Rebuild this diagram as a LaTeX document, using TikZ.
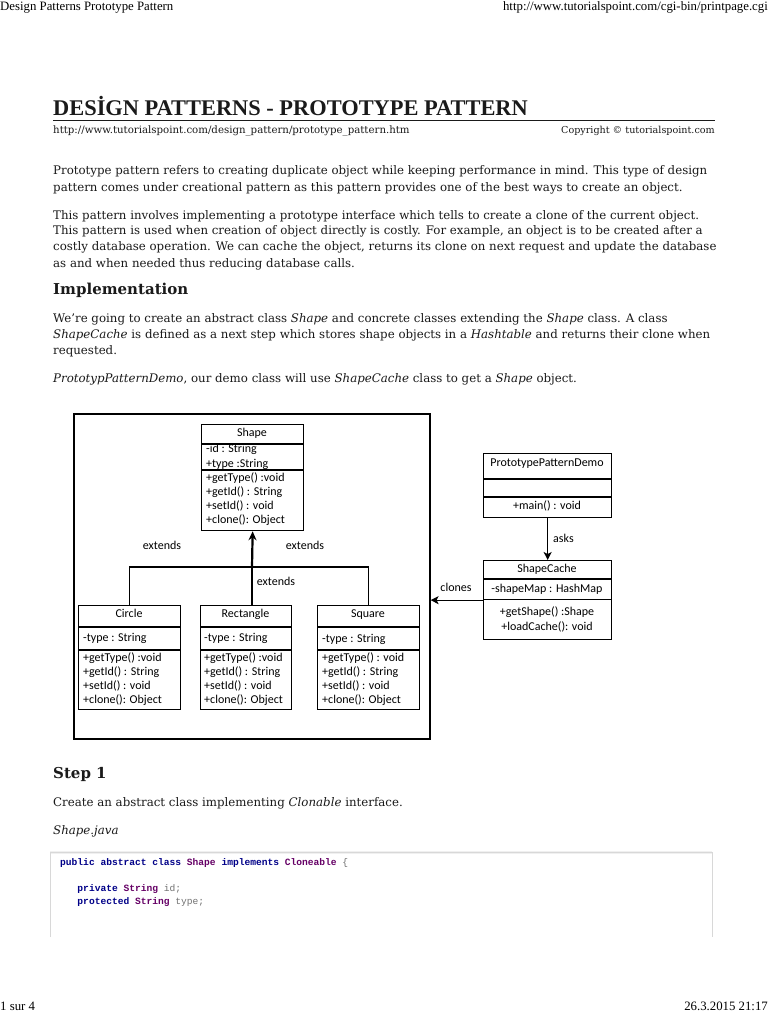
\documentclass[tikz,border=0pt]{standalone}
\usepackage{fontspec}
\setmainfont{DejaVu Serif}
\newfontfamily\timesf{Liberation Serif}
\newfontfamily\umlf{Carlito}
\newfontfamily\monof{Liberation Mono}
\usetikzlibrary{arrows.meta}
\definecolor{txt}{HTML}{1A1A1A}
\definecolor{kw}{HTML}{000088}
\definecolor{typ}{HTML}{660066}
\definecolor{pln}{HTML}{707070}
\definecolor{codeborder}{HTML}{D8D8D8}
\tikzset{
  hdr/.style={inner sep=0pt, font=\timesf\fontsize{12.8}{14}\selectfont, text height=8.5pt, text depth=2.5pt},
  body/.style={anchor=west, inner sep=0pt, text=txt, font=\fontsize{11.8}{14}\selectfont, text height=8.5pt, text depth=2.5pt},
  umlt/.style={inner sep=0pt, font=\umlf\fontsize{12}{14}\selectfont, text height=8pt, text depth=2.4pt},
  umll/.style={umlt, anchor=west},
  umlbox/.style={draw, line width=1.3pt, inner sep=0pt, anchor=north west},
  divl/.style={line width=1.1pt},
  codel/.style={anchor=west, inner sep=0pt, font=\monof\fontsize{9.6}{11}\selectfont, text height=7pt, text depth=2pt},
}
\newcommand{\kwd}[1]{\textcolor{kw}{\bfseries #1}}
\newcommand{\typn}[1]{\textcolor{typ}{\bfseries #1}}
\newcommand{\plnt}[1]{\textcolor{pln}{#1}}
\begin{document}
\begin{tikzpicture}[x=1pt,y=-1pt]
\useasboundingbox (0,0) rectangle (768,1024);
\fill[white] (0,0) rectangle (768,1024);

% page header / footer
\node[hdr, anchor=west] (hl) at (0,8) {Design Patterns Prototype Pattern};
\node[hdr, anchor=east] (hr) at (768,8) {http://www.tutorialspoint.com/cgi-bin/printpage.cgi};
\node[hdr, anchor=west] (fl) at (0,1007) {1 sur 4};
\node[hdr, anchor=east] (fr) at (768,1007) {26.3.2015 21:17};

% title
\node[anchor=west, inner sep=0pt, font=\timesf\bfseries\fontsize{22.4}{25}\selectfont, text=txt] (title) at (53,106) {DESİGN PATTERNS - PROTOTYPE PATTERN};
\draw[line width=1pt, txt] (53,121) -- (715,121);
\node[body, font=\fontsize{10.2}{12}\selectfont] (url) at (53,131) {http://www.tutorialspoint.com/design\_pattern/prototype\_pattern.htm};
\node[body, anchor=east, font=\fontsize{9.6}{12}\selectfont] (copy) at (715,131) {Copyright © tutorialspoint.com};

% paragraphs
\node[body] (p1a) at (53,172) {Prototype pattern refers to creating duplicate object while keeping performance in mind. This type of design};
\node[body] (p1b) at (53,189) {pattern comes under creational pattern as this pattern provides one of the best ways to create an object.};
\node[body] (p2a) at (53,216) {This pattern involves implementing a prototype interface which tells to create a clone of the current object.};
\node[body] (p2b) at (53,232) {This pattern is used when creation of object directly is costly. For example, an object is to be created after a};
\node[body] (p2c) at (53,248) {costly database operation. We can cache the object, returns its clone on next request and update the database};
\node[body] (p2d) at (53,264) {as and when needed thus reducing database calls.};

\node[body, font=\bfseries\fontsize{15}{17}\selectfont] (impl) at (53,291) {Implementation};
\node[body] (p3a) at (53,319) {We're going to create an abstract class \textit{Shape} and concrete classes extending the \textit{Shape} class. A class};
\node[body] (p3b) at (53,335) {\textit{ShapeCache} is defined as a next step which stores shape objects in a \textit{Hashtable} and returns their clone when};
\node[body] (p3c) at (53,351) {requested.};
\node[body] (p4) at (53,379) {\textit{PrototypPatternDemo}, our demo class will use \textit{ShapeCache} class to get a \textit{Shape} object.};

% diagram frame
\node[draw, line width=1.6pt, inner sep=0pt, anchor=north west, minimum width=356pt, minimum height=325pt] (frame) at (73,413) {};

% Shape
\node[umlbox, minimum width=102pt, minimum height=106pt] (shape) at (201,424) {};
\draw[divl] (201,444) -- (303,444);
\draw[divl] (201,470) -- (303,470);
\node[umlt] (shapet) at (252,434) {Shape};
\node[umll] (sa1) at (206,450) {-id : String};
\node[umll] (sa2) at (206,464.5) {+type :String};
\node[umll] (sm1) at (206,479) {+getType() :void};
\node[umll] (sm2) at (206,493) {+getId() : String};
\node[umll] (sm3) at (206,507) {+setId() : void};
\node[umll] (sm4) at (206,521) {+clone(): Object};

% Circle
\node[umlbox, minimum width=102pt, minimum height=104pt] (circle) at (78,605) {};
\draw[divl] (78,627) -- (180,627);
\draw[divl] (78,650) -- (180,650);
\node[umlt] (circlet) at (129,615) {Circle};
\node[umll] (ca1) at (83,639) {-type : String};
\node[umll] (cm1) at (83,659) {+getType() :void};
\node[umll] (cm2) at (83,673) {+getId() : String};
\node[umll] (cm3) at (83,687) {+setId() : void};
\node[umll] (cm4) at (83,701) {+clone(): Object};

% Rectangle
\node[umlbox, minimum width=91pt, minimum height=104pt] (rect) at (200,605) {};
\draw[divl] (200,627) -- (291,627);
\draw[divl] (200,650) -- (291,650);
\node[umlt] (rectt) at (245.5,615) {Rectangle};
\node[umll] (ra1) at (204,639) {-type : String};
\node[umll] (rm1) at (204,659) {+getType() :void};
\node[umll] (rm2) at (204,673) {+getId() : String};
\node[umll] (rm3) at (204,687) {+setId() : void};
\node[umll] (rm4) at (204,701) {+clone(): Object};

% Square
\node[umlbox, minimum width=102pt, minimum height=104pt] (square) at (317,605) {};
\draw[divl] (317,627) -- (419,627);
\draw[divl] (317,650) -- (419,650);
\node[umlt] (squaret) at (368,615) {Square};
\node[umll] (qa1) at (322,640) {-type : String};
\node[umll] (qm1) at (322,659) {+getType() : void};
\node[umll] (qm2) at (322,673) {+getId() : String};
\node[umll] (qm3) at (322,687) {+setId() : void};
\node[umll] (qm4) at (322,701) {+clone(): Object};

% inheritance connectors
\coordinate (junc) at (252,567);
\draw[line width=2.2pt, -{Stealth[length=9pt, width=8pt]}] (junc) -- (shape.south);
\draw[line width=1.2pt] (circle.north) |- (junc) -| (square.north);
\draw[line width=1.2pt] (junc) -- (junc |- rect.north);
\node[umlt] (ext1) at (162,547) {extends};
\node[umlt] (ext2) at (305,547) {extends};
\node[umlt] (ext3) at (276,583) {extends};

% PrototypePatternDemo
\node[umlbox, minimum width=128pt, minimum height=64pt] (demo) at (483,453) {};
\draw[divl] (483,479) -- (611,479);
\draw[divl] (483,497) -- (611,497);
\node[umlt] (demot) at (547,464) {PrototypePatternDemo};
\node[umlt] (demom) at (547,507) {+main() : void};

% ShapeCache
\node[umlbox, minimum width=128pt, minimum height=79pt] (cache) at (483,560) {};
\draw[divl] (483,579) -- (611,579);
\draw[divl] (483,599.5) -- (611,599.5);
\node[umlt] (cachet) at (547,569.5) {ShapeCache};
\node[umlt] (cachea) at (547,590) {-shapeMap : HashMap};
\node[umlt] (cachem1) at (547,613) {+getShape() :Shape};
\node[umlt] (cachem2) at (547,628) {+loadCache(): void};

\draw[line width=1.3pt, -{Stealth[length=8pt, width=8pt, inset=2pt]}] (demo.south) -- (cache.north);
\node[umll] (asks) at (553,540) {asks};
\draw[line width=1.3pt, -{Stealth[length=8pt, width=8pt, inset=2pt]}] (cache.west) -- (frame.east |- cache.west);
\node[umlt] (clones) at (456,589) {clones};

% Step 1
\node[body, font=\bfseries\fontsize{15}{17}\selectfont] (step) at (53,775) {Step 1};
\node[body] (create) at (53,803) {Create an abstract class implementing \textit{Clonable} interface.};
\node[body] (file) at (53,831) {\textit{Shape.java}};

% code box
\fill[black!6] (50,851) rectangle (712,853.5);
\draw[codeborder, line width=0.8pt] (50,937) -- (50,852.5) -- (712,852.5) -- (712,937);
\node[codel] (c1) at (60,863) {\kwd{public abstract class} \typn{Shape} \kwd{implements} \typn{Cloneable} \plnt{\{}};
\node[codel] (c2) at (60,889) {\phantom{abc}\kwd{private} \typn{String} \plnt{id;}};
\node[codel] (c3) at (60,902) {\phantom{abc}\kwd{protected} \typn{String} \plnt{type;}};
\end{tikzpicture}
\end{document}
